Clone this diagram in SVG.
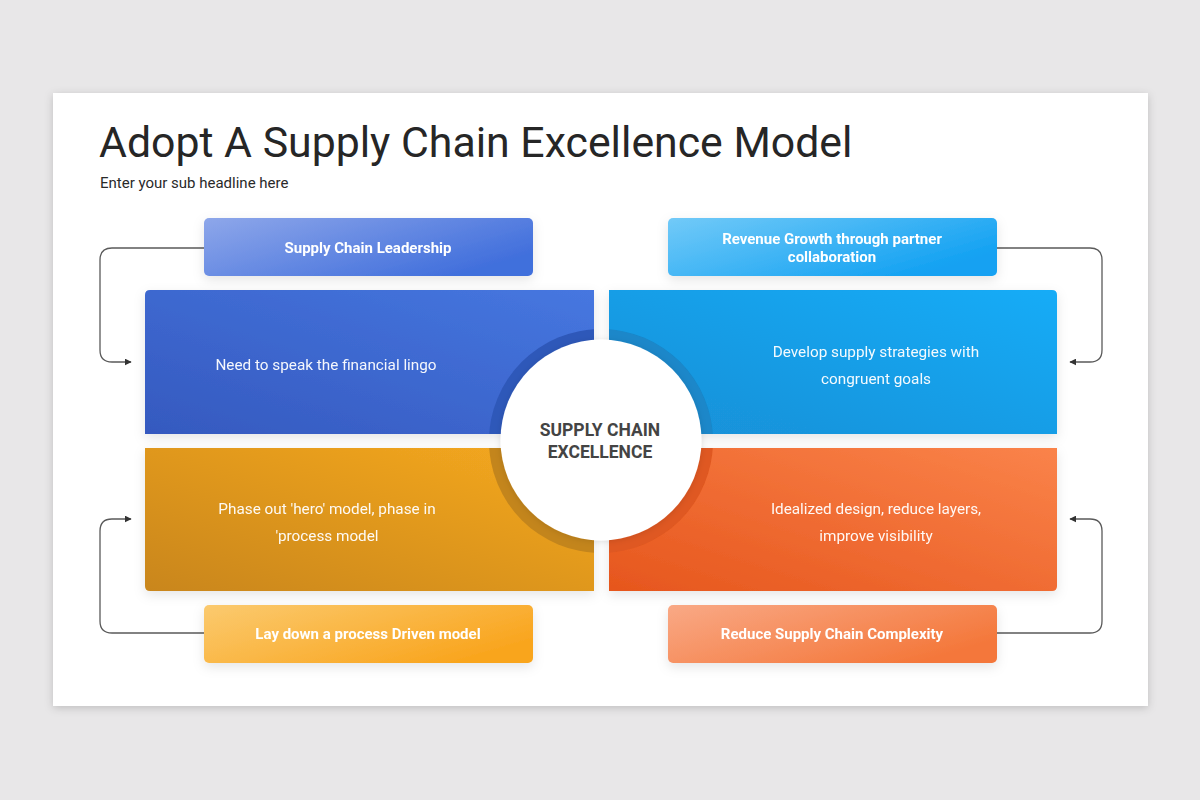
<svg xmlns="http://www.w3.org/2000/svg" width="1200" height="800" viewBox="0 0 1200 800">
  <defs>
    <style>
      .title { font-family: Roboto, "Liberation Sans", sans-serif; font-size: 42.8px; fill: #262626; }
      .sub { font-family: Roboto, "Liberation Sans", sans-serif; font-size: 15px; fill: #2a2a2a; }
      .qtext { font-family: Roboto, "Liberation Sans", sans-serif; font-size: 15.3px; fill: #ffffff; fill-opacity: 0.95; text-anchor: middle; }
      .ltext { font-family: Roboto, "Liberation Sans", sans-serif; font-size: 15px; font-weight: bold; fill: #ffffff; text-anchor: middle; }
      .ctext { font-family: Roboto, "Liberation Sans", sans-serif; font-size: 17.5px; font-weight: bold; fill: #444444; text-anchor: middle; }
      .conn { fill: none; stroke: #5a5a5a; stroke-width: 1.3; }
    </style>
    <filter id="cardShadow" x="-10%" y="-10%" width="120%" height="120%">
      <feDropShadow dx="0" dy="2" stdDeviation="4" flood-color="#000" flood-opacity="0.18"/>
    </filter>
    <filter id="boxShadow" x="-10%" y="-20%" width="120%" height="150%">
      <feDropShadow dx="0" dy="4" stdDeviation="6" flood-color="#000" flood-opacity="0.10"/>
    </filter>
    <filter id="circShadow" x="-20%" y="-20%" width="140%" height="140%">
      <feDropShadow dx="0" dy="1" stdDeviation="3" flood-color="#000" flood-opacity="0.12"/>
    </filter>
    <linearGradient id="gTL" x1="0" y1="1" x2="1" y2="0">
      <stop offset="0" stop-color="#3559bf"/>
      <stop offset="1" stop-color="#4677e0"/>
    </linearGradient>
    <linearGradient id="gTR" x1="0" y1="1" x2="1" y2="0">
      <stop offset="0" stop-color="#1a8fd6"/>
      <stop offset="1" stop-color="#16acf7"/>
    </linearGradient>
    <linearGradient id="gBL" x1="0" y1="1" x2="1" y2="0">
      <stop offset="0" stop-color="#c9861c"/>
      <stop offset="1" stop-color="#f6a920"/>
    </linearGradient>
    <linearGradient id="gBR" x1="0" y1="1" x2="1" y2="0">
      <stop offset="0" stop-color="#e6561d"/>
      <stop offset="1" stop-color="#fa834a"/>
    </linearGradient>
    <linearGradient id="lTL" x1="0" y1="0" x2="1" y2="0.6">
      <stop offset="0" stop-color="#8ea7ea"/>
      <stop offset="1" stop-color="#416fdc"/>
    </linearGradient>
    <linearGradient id="lTR" x1="0" y1="0" x2="1" y2="0.6">
      <stop offset="0" stop-color="#72caf8"/>
      <stop offset="1" stop-color="#12a1f2"/>
    </linearGradient>
    <linearGradient id="lBL" x1="0" y1="0" x2="1" y2="0.6">
      <stop offset="0" stop-color="#fbca6f"/>
      <stop offset="1" stop-color="#f9a51e"/>
    </linearGradient>
    <linearGradient id="lBR" x1="0" y1="0" x2="1" y2="0.6">
      <stop offset="0" stop-color="#f9a986"/>
      <stop offset="1" stop-color="#f4773a"/>
    </linearGradient>
    <clipPath id="cTL"><rect x="145" y="290" width="449" height="144"/></clipPath>
    <clipPath id="cTR"><rect x="609" y="290" width="448" height="144"/></clipPath>
    <clipPath id="cBL"><rect x="145" y="448" width="449" height="143"/></clipPath>
    <clipPath id="cBR"><rect x="609" y="448" width="448" height="143"/></clipPath>
    <marker id="arrow" viewBox="0 0 10 10" refX="9" refY="5" markerWidth="7" markerHeight="7" markerUnits="userSpaceOnUse" orient="auto">
      <path d="M0,0 L10,5 L0,10 Z" fill="#333333"/>
    </marker>
  </defs>

  <rect x="0" y="0" width="1200" height="800" fill="#e8e7e8"/>
  <rect x="53" y="93" width="1095" height="613" fill="#ffffff" filter="url(#cardShadow)"/>

  <g id="header">
    <text class="title" x="99" y="157">Adopt A Supply Chain Excellence Model</text>
    <text class="sub" x="100" y="188">Enter your sub headline here</text>
  </g>

  <g id="connectors">
    <path class="conn" d="M204,248 H112 Q100,248 100,260 V350 Q100,362 112,362 H131" marker-end="url(#arrow)"/>
    <path class="conn" d="M997,248 H1090 Q1102,248 1102,260 V350 Q1102,362 1090,362 H1070" marker-end="url(#arrow)"/>
    <path class="conn" d="M204,633 H112 Q100,633 100,621 V531 Q100,519 112,519 H131" marker-end="url(#arrow)"/>
    <path class="conn" d="M997,633 H1090 Q1102,633 1102,621 V531 Q1102,519 1090,519 H1070" marker-end="url(#arrow)"/>
  </g>

  <g id="quad-tl" filter="url(#boxShadow)">
    <path d="M150,290 H594 V434 H145 V295 Q145,290 150,290 Z" fill="url(#gTL)"/>
    <circle cx="601" cy="441" r="112" fill="#2f58b9" clip-path="url(#cTL)"/>
    <text class="qtext" x="326" y="370">Need to speak the financial lingo</text>
  </g>
  <g id="quad-tr" filter="url(#boxShadow)">
    <path d="M609,290 H1052 Q1057,290 1057,295 V434 H609 Z" fill="url(#gTR)"/>
    <circle cx="601" cy="441" r="112" fill="#1a87c9" clip-path="url(#cTR)"/>
    <text class="qtext" x="876" y="357">Develop supply strategies with</text>
    <text class="qtext" x="876" y="384">congruent goals</text>
  </g>
  <g id="quad-bl" filter="url(#boxShadow)">
    <path d="M145,448 H594 V591 H150 Q145,591 145,586 Z" fill="url(#gBL)"/>
    <circle cx="601" cy="441" r="112" fill="#c3851f" clip-path="url(#cBL)"/>
    <text class="qtext" x="327" y="514">Phase out 'hero' model, phase in</text>
    <text class="qtext" x="327" y="541">'process model</text>
  </g>
  <g id="quad-br" filter="url(#boxShadow)">
    <path d="M609,448 H1057 V586 Q1057,591 1052,591 H609 Z" fill="url(#gBR)"/>
    <circle cx="601" cy="441" r="112" fill="#df5820" clip-path="url(#cBR)"/>
    <text class="qtext" x="876" y="514">Idealized design, reduce layers,</text>
    <text class="qtext" x="876" y="541">improve visibility</text>
  </g>

  <g id="center">
    <circle cx="601" cy="440" r="100.5" fill="#ffffff" filter="url(#circShadow)"/>
    <text class="ctext" x="600" y="436">SUPPLY CHAIN</text>
    <text class="ctext" x="600" y="458">EXCELLENCE</text>
  </g>

  <g id="label-tl" filter="url(#boxShadow)">
    <rect x="204" y="218" width="329" height="58" rx="5" fill="url(#lTL)"/>
    <text class="ltext" x="368" y="253">Supply Chain Leadership</text>
  </g>
  <g id="label-tr" filter="url(#boxShadow)">
    <rect x="668" y="218" width="329" height="58" rx="5" fill="url(#lTR)"/>
    <text class="ltext" x="832" y="244">Revenue Growth through partner</text>
    <text class="ltext" x="832" y="262">collaboration</text>
  </g>
  <g id="label-bl" filter="url(#boxShadow)">
    <rect x="204" y="605" width="329" height="58" rx="5" fill="url(#lBL)"/>
    <text class="ltext" x="368" y="639">Lay down a process Driven model</text>
  </g>
  <g id="label-br" filter="url(#boxShadow)">
    <rect x="668" y="605" width="329" height="58" rx="5" fill="url(#lBR)"/>
    <text class="ltext" x="832" y="639">Reduce Supply Chain Complexity</text>
  </g>
</svg>
